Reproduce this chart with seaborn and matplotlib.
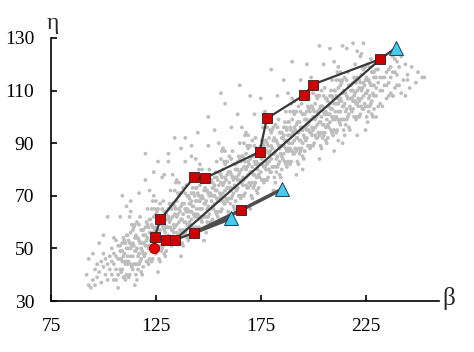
import matplotlib
matplotlib.use("Agg")
import matplotlib.pyplot as plt
import seaborn as sns

# ---------------- data ----------------
# background cloud (beta, eta)
cloud_a = [
    (92,40),(93,46),(93,36),(94,35),(95,48),(95,38),(96,36),(96,42),(97,44),(97,39),(98,41),(98,52),
    (99,37),(99,45),(100,43),(100,48),(100,55),(101,40),(101,46),(102,44),(102,38),(102,62),(103,47),
    (103,42),(104,45),(104,50),(104,40),
    (105,38),(105,44),(105,48),(105,54),(106,47),(106,38),(106,53),(106,42),(107,40),(107,46),(107,51),
    (107,35),(108,46),(108,42),(108,51),(108,49),(109,42),(109,49),(109,45),(109,52),(109,70),(110,39),
    (110,53),(110,48),(110,45),(111,45),(111,50),(111,40),(111,55),(111,66),(112,39),(112,45),(112,50),
    (112,53),(113,47),(113,50),(113,56),(113,44),(113,64),(114,42),(114,47),(114,52),(114,57),
    (115,49),(115,54),(115,44),(115,59),(115,36),(116,44),(116,50),(116,54),(116,60),(116,38),(117,53),
    (117,44),(117,59),(117,48),(117,71),(118,46),(118,52),(118,57),(118,41),(118,50),(119,52),(119,48),
    (119,57),(119,55),(119,43),(120,48),(120,55),(120,51),(120,58),(120,76),(121,45),(121,59),(121,54),
    (121,51),(121,65),(122,51),(122,56),(122,46),(122,61),(122,72),(123,45),(123,51),(123,56),(123,59),
    (123,65),(124,53),(124,56),(124,62),(124,50),(124,70),
]
cloud_b = [
    (125,48),(125,53),(125,58),(125,63),(125,68),(126,55),(126,60),(126,50),(126,65),(126,41),
    (127,51),(127,57),(127,61),(127,67),(127,45),(128,59),(128,50),(128,65),(128,54),(128,77),
    (129,53),(129,59),(129,64),(129,48),(129,57),(130,58),(130,54),(130,63),(130,61),(130,49),
    (131,55),(131,62),(131,58),(131,65),(131,83),(132,52),(132,66),(132,61),(132,58),(132,72),
    (133,57),(133,62),(133,52),(133,67),(133,78),(134,52),(134,58),(134,63),(134,66),(134,72),
    (135,59),(135,62),(135,68),(135,56),(135,76),(136,55),(136,60),(136,65),(136,70),(136,75),
    (137,61),(137,66),(137,56),(137,71),(137,47),(138,57),(138,63),(138,67),(138,73),(138,51),
    (139,65),(139,56),(139,71),(139,60),(139,83),(140,59),(140,65),(140,70),(140,54),(140,64),
    (141,64),(141,60),(141,69),(141,67),(141,55),(142,61),(142,68),(142,64),(142,71),(142,89),
    (143,57),(143,71),(143,66),(143,63),(143,77),(144,63),(144,68),(144,58),(144,73),(144,84),
    (145,57),(145,63),(145,68),(145,71),(145,77),(146,65),(146,68),(146,74),(146,62),(146,82),
    (147,60),(147,65),(147,70),(147,75),(147,80),(148,67),(148,72),(148,62),(148,77),(148,53),
    (149,62),(149,68),(149,72),(149,78),(149,56),(150,71),(150,62),(150,77),(150,66),(150,89),
    (151,65),(151,71),(151,76),(151,60),(151,70),(152,70),(152,66),(152,75),(152,73),(152,61),
    (153,67),(153,74),(153,70),(153,77),(153,95),(154,63),(154,77),(154,72),(154,69),(154,83),
    (155,69),(155,74),(155,64),(155,79),(155,90),(156,64),(156,70),(156,75),(156,78),(156,84),
    (157,71),(157,74),(157,80),(157,68),(157,88),(158,67),(158,72),(158,77),(158,82),(158,87),
    (159,73),(159,78),(159,68),(159,83),(159,59),(160,69),(160,75),(160,79),(160,85),(160,63),
]
cloud_c = [
    (161,78),(161,69),(161,84),(161,73),(161,96),(162,71),(162,77),(162,82),(162,66),(162,76),
    (163,77),(163,73),(163,82),(163,80),(163,68),(164,73),(164,80),(164,76),(164,83),(164,101),
    (165,70),(165,84),(165,79),(165,76),(165,90),(166,75),(166,80),(166,70),(166,85),(166,96),
    (167,70),(167,76),(167,81),(167,84),(167,90),(168,77),(168,80),(168,86),(168,74),(168,94),
    (169,73),(169,78),(169,83),(169,88),(169,93),(170,79),(170,84),(170,74),(170,89),(170,65),
    (171,75),(171,81),(171,85),(171,91),(171,69),(172,83),(172,74),(172,89),(172,78),(172,101),
    (173,77),(173,83),(173,88),(173,72),(173,82),(174,82),(174,78),(174,87),(174,85),(174,73),
    (175,79),(175,86),(175,82),(175,89),(175,107),(176,76),(176,90),(176,85),(176,82),(176,96),
    (177,81),(177,86),(177,76),(177,91),(177,102),(178,76),(178,82),(178,87),(178,90),(178,96),
    (179,83),(179,86),(179,92),(179,80),(179,100),(180,79),(180,84),(180,89),(180,94),(180,99),
    (181,86),(181,91),(181,81),(181,96),(181,72),(182,81),(182,87),(182,91),(182,97),(182,75),
    (183,90),(183,81),(183,96),(183,85),(183,108),(184,83),(184,89),(184,94),(184,78),(184,88),
    (185,89),(185,85),(185,94),(185,92),(185,80),(186,86),(186,93),(186,89),(186,96),(186,114),
    (187,82),(187,96),(187,91),(187,88),(187,102),(188,88),(188,93),(188,83),(188,98),(188,109),
    (189,82),(189,88),(189,93),(189,96),(189,102),(190,90),(190,93),(190,99),(190,87),(190,107),
    (191,86),(191,91),(191,96),(191,101),(191,106),(192,92),(192,97),(192,87),(192,102),(192,78),
    (193,88),(193,94),(193,98),(193,104),(193,82),(194,96),(194,87),(194,102),(194,91),(194,114),
    (195,90),(195,96),(195,101),(195,85),(195,95),(196,96),(196,92),(196,101),(196,99),(196,87),
    (197,92),(197,99),(197,95),(197,102),(197,120),(198,89),(198,103),(198,98),(198,95),(198,109),
    (199,94),(199,99),(199,89),(199,104),(199,115),(200,89),(200,95),(200,100),(200,103),(200,109),
]
cloud_d = [
    (201,96),(201,99),(201,105),(201,93),(201,113),(202,92),(202,97),(202,102),(202,107),(202,112),
    (203,98),(203,103),(203,93),(203,108),(203,84),(204,94),(204,100),(204,104),(204,110),(204,88),
    (205,102),(205,93),(205,108),(205,97),(205,120),(206,96),(206,102),(206,107),(206,91),(206,101),
    (207,101),(207,97),(207,106),(207,104),(207,92),(208,98),(208,105),(208,101),(208,108),(208,126),
    (209,94),(209,108),(209,103),(209,100),(209,114),(210,100),(210,105),(210,95),(210,110),(210,121),
    (211,94),(211,100),(211,105),(211,108),(211,114),(212,102),(212,105),(212,111),(212,99),(212,119),
    (213,97),(213,102),(213,107),(213,112),(213,117),(214,104),(214,109),(214,99),(214,114),(214,90),
    (215,99),(215,105),(215,109),(215,115),(215,93),
    (216,108),(216,99),(216,114),(216,103),(216,126),(217,101),(217,107),(217,112),(217,96),
    (218,107),(218,103),(218,112),(218,110),(219,103),(219,110),(219,106),(219,113),(219,128),
    (220,100),(220,114),(220,109),(220,106),(220,120),(221,105),(221,110),(221,100),(221,115),(221,125),
    (222,100),(222,106),(222,111),(222,114),(223,107),(223,110),(223,116),(223,104),(223,124),
    (224,103),(224,108),(224,113),(224,118),(225,109),(225,114),(225,104),(225,119),(225,95),
    (226,104),(226,110),(226,114),(226,120),(226,98),(227,113),(227,104),(227,119),(227,108),
    (228,106),(228,112),(228,117),(228,101),(229,112),(229,108),(229,117),(229,115),(229,103),
    (230,108),(230,115),(230,111),(230,118),
    (231,104),(231,118),(231,113),(232,110),(232,115),(232,105),(233,104),(233,110),(233,115),
    (234,112),(234,115),(234,121),(235,107),(235,112),(235,117),(236,113),(236,118),(236,108),
    (237,109),(237,115),(237,119),(238,117),(238,108),(238,123),(239,111),(239,117),(239,122),
    (240,116),(240,112),(240,121),(241,112),(241,119),(242,109),(242,123),
    (243,114),(244,120),(244,108),(245,116),(246,111),(247,119),(249,113),(250,117),(252,115),
]
cloud_e = [
    (108.5,49),(108.5,41),(108.5,46),(109.5,39),(109.5,47),(109.5,54),(110.5,52),(110.5,44),(110.5,38),
    (111.5,47),(111.5,55),(111.5,44),(112.5,52),(112.5,40),(112.5,62),(113.5,43),(113.5,51),(113.5,59),
    (114.5,44),(114.5,51),(114.5,58),(115.5,40),(115.5,49),(115.5,55),(116.5,47),(116.5,54),(116.5,42),
    (117.5,52),(117.5,45),(117.5,62),(118.5,49),(118.5,57),(118.5,40),(119.5,55),(119.5,47),(119.5,52),
    (120.5,45),(120.5,53),(120.5,60),(121.5,58),(121.5,50),(121.5,44),(122.5,53),(122.5,61),(122.5,50),
    (123.5,58),(123.5,46),(123.5,68),(124.5,49),(124.5,57),(124.5,65),(125.5,50),(125.5,57),(125.5,64),
    (126.5,46),(126.5,55),(126.5,61),(127.5,54),(127.5,61),(127.5,49),(128.5,58),(128.5,51),(128.5,68),
    (129.5,56),(129.5,64),(129.5,47),(130.5,61),(130.5,53),(130.5,58),(131.5,52),(131.5,60),(131.5,67),
    (132.5,65),(132.5,57),(132.5,51),(133.5,59),(133.5,67),(133.5,56),(134.5,65),(134.5,53),(134.5,75),
    (135.5,55),(135.5,63),(135.5,71),(136.5,57),(136.5,64),(136.5,71),(137.5,52),(137.5,61),(137.5,67),
    (138.5,60),(138.5,67),(138.5,55),(139.5,64),(139.5,57),(139.5,74),(140.5,62),(140.5,70),(140.5,53),
    (141.5,67),(141.5,59),(141.5,64),(142.5,58),(142.5,66),(142.5,73),(143.5,70),(143.5,62),(143.5,56),
    (144.5,65),(144.5,73),(144.5,62),(145.5,70),(145.5,58),(145.5,80),(146.5,61),(146.5,69),(146.5,77),
    (147.5,62),(147.5,69),(147.5,76),(148.5,58),(148.5,67),(148.5,73),(149.5,65),(149.5,72),(149.5,60),
    (150.5,70),(150.5,63),(150.5,80),(151.5,68),(151.5,76),(151.5,59),(152.5,73),(152.5,65),(152.5,70),
    (153.5,64),(153.5,72),(153.5,79),(154.5,76),(154.5,68),(154.5,62),(155.5,71),(155.5,79),(155.5,68),
    (156.5,77),(156.5,65),(156.5,87),(157.5,67),(157.5,75),(157.5,83),(158.5,69),(158.5,76),(158.5,83),
    (159.5,64),(159.5,73),(159.5,79),(160.5,72),(160.5,79),(160.5,67),(161.5,77),(161.5,70),(161.5,87),
    (162.5,74),(162.5,82),(162.5,65),(163.5,80),(163.5,72),(163.5,77),(164.5,70),(164.5,78),(164.5,85),
    (165.5,83),(165.5,75),(165.5,69),(166.5,77),(166.5,85),(166.5,74),(167.5,83),(167.5,71),(167.5,93),
    (168.5,73),(168.5,81),(168.5,89),(169.5,75),(169.5,82),(169.5,89),(170.5,70),(170.5,79),(170.5,85),
    (171.5,78),(171.5,85),(171.5,73),(172.5,82),(172.5,75),(172.5,92),(173.5,80),(173.5,88),(173.5,71),
    (174.5,85),(174.5,77),(174.5,82),(175.5,76),(175.5,84),(175.5,91),(176.5,89),(176.5,81),(176.5,75),
    (177.5,83),(177.5,91),(177.5,80),(178.5,89),(178.5,77),(178.5,99),(179.5,79),(179.5,87),(179.5,95),
    (180.5,81),(180.5,88),(180.5,95),(181.5,77),(181.5,86),(181.5,92),(182.5,84),(182.5,91),(182.5,79),
    (183.5,89),(183.5,82),(183.5,99),(184.5,86),(184.5,94),(184.5,77),(185.5,92),(185.5,84),(185.5,89),
    (186.5,83),(186.5,91),(186.5,98),(187.5,95),(187.5,87),(187.5,81),(188.5,90),(188.5,98),(188.5,87),
    (189.5,95),(189.5,83),(189.5,105),(190.5,86),(190.5,94),(190.5,102),(191.5,88),(191.5,95),(191.5,102),
    (192.5,83),(192.5,92),(192.5,98),(193.5,91),(193.5,98),(193.5,86),(194.5,95),(194.5,88),(194.5,105),
    (195.5,93),(195.5,101),(195.5,84),(196.5,99),(196.5,91),(196.5,96),(197.5,89),(197.5,97),(197.5,104),
    (198.5,102),(198.5,94),(198.5,88),(199.5,96),(199.5,104),(199.5,93),(200.5,102),(200.5,90),(200.5,112),
    (201.5,92),(201.5,100),(201.5,108),(202.5,94),(202.5,101),(202.5,108),(203.5,89),(203.5,98),(203.5,104),
    (204.5,97),(204.5,104),(204.5,92),(205.5,101),(205.5,94),(205.5,111),(206.5,99),(206.5,107),(206.5,90),
    (207.5,104),(207.5,96),(207.5,101),(208.5,95),(208.5,103),(208.5,110),(209.5,107),(209.5,99),(209.5,93),
    (210.5,102),(210.5,110),(210.5,99),(211.5,107),(211.5,95),(211.5,117),(212.5,98),(212.5,106),(212.5,114),
    (213.5,99),(213.5,106),(213.5,113),(214.5,95),(214.5,104),(214.5,110),(215.5,102),(215.5,109),(215.5,97),
    (216.5,107),(216.5,100),(216.5,117),(217.5,104),(217.5,112),(217.5,95),(218.5,110),(218.5,102),(218.5,107),
    (219.5,100),(219.5,108),(219.5,115),(220.5,113),(220.5,105),(220.5,99),(221.5,107),(221.5,115),(221.5,104),
    (222.5,113),(222.5,101),(222.5,123),(223.5,103),(223.5,111),(223.5,119),(224.5,105),(224.5,112),(224.5,119),
    (225.5,100),(225.5,109),(225.5,115),(226.5,107),(226.5,114),(226.5,102),(227.5,112),(227.5,105),(227.5,122),
    (228.5,109),(228.5,117),(228.5,100),
]
cloud_halo = [
    (120,86),(134,92),(156,109),(158,105),(145,94),(165,112),(180,118),(190,121),(203,127),(214,127),
    (224,128),(245,114),(253,115),(238,108),(230,100),(221,93),(212,91),(210,87),(195,80),(113,68),
    (108,62),(150,100),(170,108),(126,83),(131,86),(139,92),(137,88),(142,85),(129,78),(124,79),
]

# trajectory markers
start_beta = [124.0]
start_eta = [50.0]
square_beta = [124.5, 127.2, 129.8, 134.0, 143.1, 143.1, 148.6, 165.7, 174.5, 177.9, 195.7, 199.8, 232.1]
square_eta = [54.5, 61.0, 53.2, 53.2, 55.9, 77.0, 76.8, 64.6, 86.7, 99.4, 108.3, 112.3, 122.0]
triangle_beta = [239.4, 160.7, 185.1]
triangle_eta = [126.3, 61.4, 72.5]

# connecting lines
path1_beta = [124.0, 124.5, 127.2, 143.1, 148.6, 174.5, 177.9, 195.7, 199.8, 232.1, 239.4]
path1_eta = [50.0, 54.5, 61.0, 77.0, 76.8, 86.7, 99.4, 108.3, 112.3, 122.0, 126.3]
path2_beta = [143.1, 134.0, 232.1]
path2_eta = [55.9, 53.2, 122.0]
thick1_beta = [143.1, 165.7, 185.1]
thick1_eta = [55.9, 64.6, 72.5]
thick2_beta = [143.1, 160.7]
thick2_eta = [55.9, 61.4]

x_ticks = [75, 125, 175, 225]
y_ticks = [30, 50, 70, 90, 110, 130]

# ---------------- plot ----------------
sns.set_theme(style="ticks")
plt.rcParams["font.family"] = ["Liberation Serif", "DejaVu Serif"]

fig = plt.figure(figsize=(4.74, 3.52), dpi=100)
ax = fig.add_axes([51 / 474, 1 - 301 / 352, (439 - 51) / 474, (301 - 38) / 352])

cloud = cloud_a + cloud_b + cloud_c + cloud_d + cloud_e + cloud_halo
cb = [p[0] for p in cloud]
ce = [p[1] for p in cloud]
sns.scatterplot(x=cb, y=ce, s=7.5, color="#BDBDBD", edgecolor="none", linewidth=0, ax=ax, zorder=1)

for xs, ys in [(thick1_beta, thick1_eta), (thick2_beta, thick2_eta)]:
    sns.lineplot(x=xs, y=ys, sort=False, estimator=None, color="#4d4d4d", linewidth=2.6, ax=ax, zorder=3)
for xs, ys in [(path1_beta, path1_eta), (path2_beta, path2_eta)]:
    sns.lineplot(x=xs, y=ys, sort=False, estimator=None, color="#383838", linewidth=1.6, ax=ax, zorder=3)

sns.scatterplot(x=square_beta, y=square_eta, marker="s", s=58, color="#CC0000",
                edgecolor="#3a1a1a", linewidth=0.6, ax=ax, zorder=5)
sns.scatterplot(x=start_beta, y=start_eta, marker="o", s=55, color="#E00000",
                edgecolor="#8a0000", linewidth=0.6, ax=ax, zorder=5)
sns.scatterplot(x=triangle_beta, y=triangle_eta, marker="^", s=100, color="#45CDF0",
                edgecolor="#1f3d5c", linewidth=0.7, ax=ax, zorder=6)

ax.set_xlim(75, 260)
ax.set_ylim(30, 130)
ax.set_xticks(x_ticks)
ax.set_yticks(y_ticks)
ax.set_xlabel("")
ax.set_ylabel("")
for s in ["top", "right"]:
    ax.spines[s].set_visible(False)
for s in ["left", "bottom"]:
    ax.spines[s].set_linewidth(1.2)
    ax.spines[s].set_color("black")
ax.tick_params(direction="in", length=4, width=1.2, pad=12, labelsize=14, colors="black")

fig.text(449 / 474, 1 - 298 / 352, "β", ha="center", va="center", fontsize=18)
fig.text(53 / 474, 1 - 23 / 352, "η", ha="center", va="center", fontsize=17)

fig.savefig("out.png", dpi=100, facecolor="white")
